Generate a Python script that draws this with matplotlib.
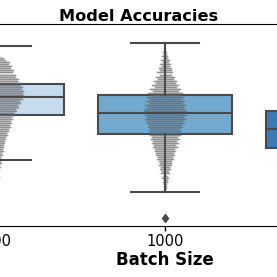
import numpy as np
import matplotlib
matplotlib.use('Agg')
import matplotlib.pyplot as plt

# categories and box statistics (accuracy)
batch_sizes = ['100', '1000', '10000']
box_colors = ['#c6dbee', '#74a9cf', '#3a7ab5']
q1 = [0.7099, 0.6911, 0.6772]
med = [0.7277, 0.7119, 0.6960]
q3 = [0.7406, 0.7297, 0.7139]
whis_lo = [0.6653, 0.6337, 0.6200]
whis_hi = [0.7782, 0.7812, 0.7700]
fliers = [[], [0.6079], []]

# swarm: points per accuracy row (rows from 0.776 down in 0.002 steps)
row_acc = [round(0.776 - 0.002 * i, 3) for i in range(71)]
swarm_100 = [0, 0, 0, 2, 5, 13, 17, 25, 24, 29,
             28, 33, 32, 37, 38, 43, 42, 49, 48, 51,
             50, 53, 51, 52, 48, 51, 46, 47, 42, 43,
             38, 39, 34, 35, 30, 31, 27, 29, 25, 27,
             23, 22, 19, 21, 17, 16, 15, 14, 13, 12,
             11, 13, 9, 11, 8, 9, 7, 8, 5, 7,
             4, 5, 3, 4, 2, 3, 1, 2, 1, 2,
             1]
swarm_1000 = [2, 1, 4, 3, 6, 4, 9, 6, 11, 8,
              13, 12, 16, 12, 19, 16, 23, 20, 27, 22,
              31, 26, 35, 30, 37, 32, 39, 34, 41, 36,
              40, 43, 38, 42, 37, 41, 36, 38, 33, 35,
              30, 33, 28, 31, 26, 29, 24, 27, 22, 25,
              20, 21, 18, 19, 15, 17, 13, 12, 13, 9,
              11, 7, 9, 5, 7, 4, 5, 3, 3, 2,
              2]

fig = plt.figure(figsize=(2.77, 2.77), dpi=100)
# axes run past the figure edges: the picture is a crop of a wider chart
ax = fig.add_axes([-0.0715, 0.1841, 1.0917, 0.7292])

line_color = '#4a4a4a'
stats = []
for i in range(len(batch_sizes)):
    stats.append(dict(med=med[i], q1=q1[i], q3=q3[i], whislo=whis_lo[i],
                      whishi=whis_hi[i], fliers=fliers[i]))

bp = ax.bxp(stats, positions=range(len(batch_sizes)), widths=0.8,
            patch_artist=True, manage_ticks=False,
            boxprops=dict(linewidth=1.5, edgecolor=line_color),
            medianprops=dict(linewidth=1.5, color=line_color),
            whiskerprops=dict(linewidth=1.5, color=line_color),
            capprops=dict(linewidth=1.5, color=line_color),
            flierprops=dict(marker='d', markersize=4.5, markerfacecolor=line_color,
                            markeredgecolor=line_color))
for patch, c in zip(bp['boxes'], box_colors):
    patch.set_facecolor(c)
    patch.set_zorder(1)
for key in ['medians', 'whiskers', 'caps', 'fliers']:
    for artist in bp[key]:
        artist.set_zorder(3)

# beeswarm-like layout of the points
dx = 1.0 / 168
for pos, counts in [(0, swarm_100), (1, swarm_1000)]:
    xs, ys = [], []
    for j, (acc, n) in enumerate(zip(row_acc, counts)):
        shift = 0.5 * dx * (j % 2)
        offs = (np.arange(n) - (n - 1) / 2) * dx + shift
        xs.extend(pos + offs)
        ys.extend([acc] * n)
    ax.scatter(xs, ys, s=1.8, color='0.4', alpha=0.55, linewidths=0, zorder=2)

ax.set_xticks(range(len(batch_sizes)))
ax.set_xticklabels(batch_sizes, fontsize=10.5)
ax.set_yticks([])
# set limits after the ticks, otherwise set_xticks widens the view
ax.set_xlim(-0.1, 1.7)
ax.set_ylim(0.60, 0.80)
ax.spines['left'].set_visible(False)
ax.spines['right'].set_visible(False)
ax.tick_params(axis='x', length=3.5, width=1, pad=2.5)
ax.set_title('Model Accuracies', fontsize=11.6, fontweight='bold', pad=2.5, x=0.5235)
ax.set_xlabel('Batch Size', fontsize=12, fontweight='bold', labelpad=1.5, x=0.611)

fig.savefig('out.png', dpi=100)
